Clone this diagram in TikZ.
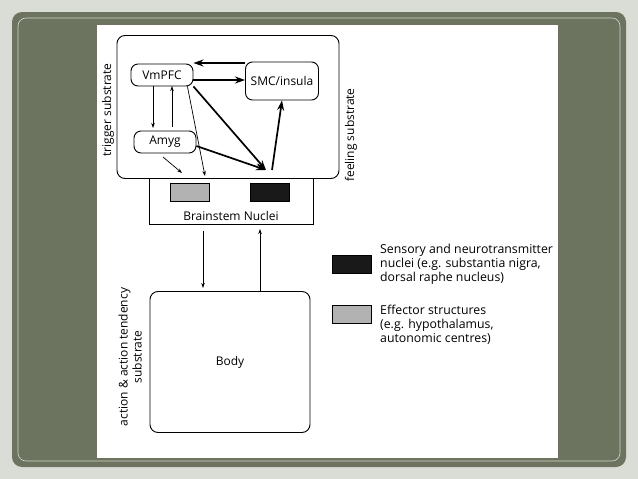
\documentclass[tikz,border=0pt]{standalone}
\usepackage{fontspec}
\setmainfont{Open Sans}
\usetikzlibrary{positioning}
\usetikzlibrary{arrows.meta}
\definecolor{slidebg}{HTML}{DADCD6}
\definecolor{panel}{HTML}{6C735F}
\tikzset{basic/.style={draw,line width=0.9pt,font=\fontsize{12}{14}\selectfont}}
\tikzset{region/.style={basic,rounded corners=8pt,inner sep=0pt}}
\tikzset{area/.style={basic,rounded corners=7pt,minimum height=22pt,inner sep=2pt}}
\tikzset{swatch/.style={draw,line width=0.9pt,minimum width=39pt,minimum height=18pt,inner sep=0pt}}
\tikzset{thin/.style={draw,line width=0.7pt,-{Stealth[length=5pt,width=3.5pt]}}}
\tikzset{thick/.style={draw,line width=1.7pt,-{Stealth[length=10pt,width=7pt]}}}
\tikzset{side/.style={font=\fontsize{12}{14}\selectfont,rotate=90,align=center}}
\tikzset{legend/.style={font=\fontsize{12.3}{14}\selectfont,align=left,anchor=west,inner sep=0pt}}

\begin{document}
\begin{tikzpicture}[x=1pt,y=-1pt]
                \useasboundingbox (0,0) rectangle (638,479);
                \fill[slidebg] (0,0) rectangle (638,479);
                \fill[panel,rounded corners=10pt] (12,12) rectangle (626,467);
                \draw[white!70!panel,line width=0.6pt,rounded corners=8pt] (18,18) rectangle (620,461);
                \fill[white] (97,25) rectangle (558,458);
                % regions
                \node[region,minimum width=164pt,minimum height=47pt,rounded corners=0pt] (stem) at (231,201) {};
                \node[region,fill=white,minimum width=222pt,minimum height=143pt] (top) at (228,107) {};
                \node[basic,draw=none,anchor=south] (stemlabel) at (231,224) {Brainstem Nuclei};
                \node[swatch,fill=gray!60] (effector) at (190,192) {};
                \node[swatch,fill=black!90] (sensory) at (270,192) {};
                \node[region,minimum width=160pt,minimum height=141pt] (body) at (230,362) {Body};
                % areas
                \node[area,minimum width=62pt] (vmpfc) at (162,75) {VmPFC};
                \node[area,minimum width=73pt,minimum height=38pt] (smc) at (282,81) {SMC/insula};
                \node[area,minimum width=62pt] (amyg) at (165,142) {Amyg};
                \coordinate (hub) at (266,170);
                \coordinate (thinend) at (205,176);
                \coordinate (amygend) at (182,173);
                \coordinate (bodyin) at (203,288);
                \coordinate (stemin) at (260,229);
                % connectors
                \path[thick] (smc.west|-0,63) -- (vmpfc.east|-0,63);
                \path[thick] (vmpfc.east|-0,80) -- (smc.west|-0,80);
                \path[thin] (153,86) -- (153,128);
                \path[thin] (172,127) -- (172,86);
                \path[thick] (vmpfc.south east) -- (hub);
                \path[thin] (vmpfc.south east) ++(-6,0) -- (thinend);
                \path[thick] (amyg.east) ++(0,4) -- (hub);
                \path[thin] (163,157) -- (amygend);
                \path[thick] (272,170) -- (smc.south);
                \path[thin] (203,231) -- (bodyin);
                \path[thin] (260,292) -- (stemin);
                % side labels
                \node[side] (trigger) at (108,110) {trigger substrate};
                \node[side] (feeling) at (351,135) {feeling substrate};
                \node[side] (action) at (130,357) {action \& action tendency\\substrate};
                % legend
                \node[swatch,fill=black!90] (key1) at (352,264) {};
                \node[legend] (keytext1) at (380,264) {Sensory and neurotransmitter\\nuclei (e.g. substantia nigra,\\dorsal raphe nucleus)};
                \node[swatch,fill=gray!60] (key2) at (352,314) {};
                \node[legend] (keytext2) at (380,325) {Effector structures\\(e.g. hypothalamus,\\autonomic centres)};
            \end{tikzpicture}
\end{document}
